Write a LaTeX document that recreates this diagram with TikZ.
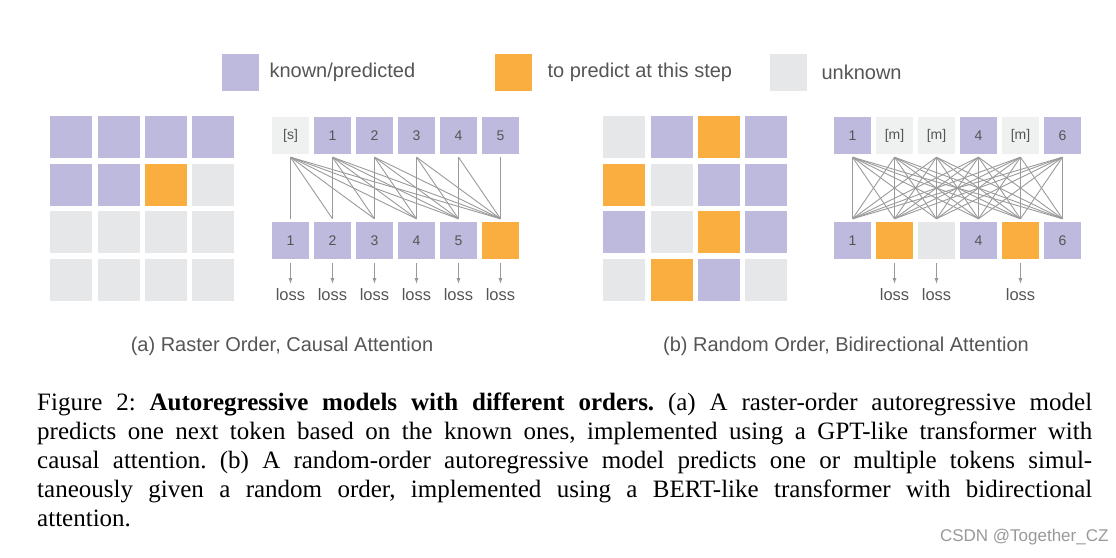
\documentclass[tikz,border=0pt]{standalone}
\usepackage{fontspec}
\setmainfont{Liberation Serif}
\setsansfont{Liberation Sans}
\begin{document}
\definecolor{kp}{HTML}{BDBADD}
\definecolor{po}{HTML}{FBAE40}
\definecolor{un}{HTML}{E6E7E8}
\definecolor{ms}{HTML}{EFF0F0}
\definecolor{tx}{HTML}{555555}
\definecolor{ln}{HTML}{9A9A9A}
\begin{tikzpicture}[x=1pt,y=-1pt,
  cell/.style={minimum size=42pt,inner sep=0,draw=none,anchor=north west},
  tok/.style={minimum size=37pt,inner sep=0,draw=none,font=\sffamily\fontsize{14}{14}\selectfont,text=tx},
  lab/.style={font=\sffamily\fontsize{20}{20}\selectfont,text=tx},
  loss/.style={font=\sffamily\fontsize{16.5}{16.5}\selectfont,text=tx,anchor=base},
  edge/.style={draw=ln,line width=0.9pt},
  arr/.style={draw=ln,line width=0.9pt,-latex}]
\useasboundingbox (0,0) rectangle (1116,557);
% legend
\node[cell,fill=kp,minimum size=37pt] (l1) at (222,54) {};
\node[lab,anchor=west] (t1) at (266,72) {known/predicted};
\node[cell,fill=po,minimum size=37pt] (l2) at (495,54) {};
\node[lab,anchor=west] (t2) at (544,72) {to predict at this step};
\node[cell,fill=un,minimum size=37pt] (l3) at (770,54) {};
\node[lab,anchor=west] (t3) at (818,72) {unknown};
% left grid
\foreach \c [count=\i from 0] in {kp,kp,kp,kp}{\node[cell,fill=\c] (ga0\i) at (50+47.3*\i,116) {};}
\foreach \c [count=\i from 0] in {kp,kp,po,un}{\node[cell,fill=\c] (ga1\i) at (50+47.3*\i,163.5) {};}
\foreach \c [count=\i from 0] in {un,un,un,un}{\node[cell,fill=\c] (ga2\i) at (50+47.3*\i,211) {};}
\foreach \c [count=\i from 0] in {un,un,un,un}{\node[cell,fill=\c] (ga3\i) at (50+47.3*\i,258.5) {};}
% right grid
\foreach \c [count=\i from 0] in {un,kp,po,kp}{\node[cell,fill=\c] (gb0\i) at (603+47.3*\i,116) {};}
\foreach \c [count=\i from 0] in {po,un,kp,kp}{\node[cell,fill=\c] (gb1\i) at (603+47.3*\i,163.5) {};}
\foreach \c [count=\i from 0] in {kp,un,po,kp}{\node[cell,fill=\c] (gb2\i) at (603+47.3*\i,211) {};}
\foreach \c [count=\i from 0] in {un,po,kp,un}{\node[cell,fill=\c] (gb3\i) at (603+47.3*\i,258.5) {};}
% (a) tokens
\foreach \t/\c [count=\i from 0] in {{[s]}/ms,1/kp,2/kp,3/kp,4/kp,5/kp}{
  \node[tok,fill=\c] (at\i) at (290.5+42*\i,135.5) {\t};}
\foreach \t/\c [count=\i from 0] in {1/kp,2/kp,3/kp,4/kp,5/kp,{}/po}{
  \node[tok,fill=\c] (ab\i) at (290.5+42*\i,240.5) {\t};
  \node[loss] (al\i) at (290.5+42*\i,300) {loss};
  \draw[arr] ([yshift=-4pt]ab\i.south) -- ([yshift=1pt]al\i.north);}
\foreach \i in {0,...,5}{\foreach \j in {\i,...,5}{
  \draw[edge] ([yshift=-3pt]at\i.south) -- ([yshift=3pt]ab\j.north);}}
% (b) tokens
\foreach \t/\c [count=\i from 0] in {1/kp,{[m]}/ms,{[m]}/ms,4/kp,{[m]}/ms,6/kp}{
  \node[tok,fill=\c] (bt\i) at (852.5+42*\i,135.5) {\t};}
\foreach \t/\c [count=\i from 0] in {1/kp,{}/po,{}/un,4/kp,{}/po,6/kp}{
  \node[tok,fill=\c] (bb\i) at (852.5+42*\i,240.5) {\t};}
\foreach \i in {0,...,5}{\foreach \j in {0,...,5}{
  \draw[edge] ([yshift=-3pt]bt\i.south) -- ([yshift=3pt]bb\j.north);}}
\foreach \i in {1,2,4}{
  \node[loss] (bl\i) at (852.5+42*\i,300) {loss};
  \draw[arr] ([yshift=-4pt]bb\i.south) -- ([yshift=1pt]bl\i.north);}
% sub captions
\node[lab] (ca) at (282,346) {(a) Raster Order, Causal Attention};
\node[lab] (cb) at (846,346) {(b) Random Order, Bidirectional Attention};
% caption
\node[anchor=north west,inner sep=0,text width=1055pt,align=justify,font=\fontsize{25}{29}\selectfont\frenchspacing] (cap) at (37,393)
{Figure 2: \textbf{Autoregressive models with different orders.} (a) A raster-order autoregressive model\linebreak
predicts one next token based on the known ones, implemented using a GPT-like transformer with\linebreak
causal attention. (b) A random-order autoregressive model predicts one or multiple tokens simul-\linebreak
taneously given a random order, implemented using a BERT-like transformer with bidirectional\linebreak
attention.};
\node[anchor=east,font=\sffamily\fontsize{17}{17}\selectfont,text=black!40] (wm) at (1112,537) {CSDN @Together\_CZ};
\end{tikzpicture}
\end{document}
